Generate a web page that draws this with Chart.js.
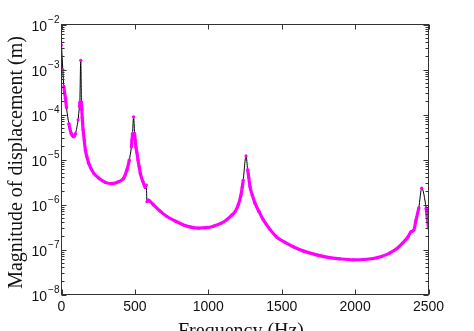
<!DOCTYPE html>
<html>
<head>
<meta charset="utf-8">
<script src="https://cdn.jsdelivr.net/npm/chart.js@4.4.0/dist/chart.umd.min.js"></script>
<style>
  html, body { margin: 0; padding: 0; background: #fff; }
  canvas { display: block; }
</style>
</head>
<body>
<canvas id="frf" width="474" height="331"></canvas>
<script>
// frequency response: displacement magnitude vs. frequency
const freqHz = [
  0, 9, 16, 27, 34, 50, 66, 84, 95, 113, 122, 125, 131,
  136, 138, 141, 144, 147, 155, 163, 173, 185, 220, 253, 299, 344, 389, 423, 446, 462, 476, 480, 484, 491,
  498, 502, 507, 514, 521, 529, 537, 555, 571, 578, 582, 590, 600,
  627, 670, 718, 775, 831, 880, 933, 985, 1035, 1085, 1126, 1160, 1182, 1205, 1222, 1231, 1238, 1257,
  1268, 1276, 1284, 1300, 1318, 1345, 1374, 1420, 1465, 1520, 1578, 1650, 1737, 1815, 1895, 1986,
  2060, 2122, 2180, 2235, 2285, 2325, 2360, 2382, 2400, 2415, 2425, 2434, 2454, 2484, 2492, 2500
];
const dispMag = [
  3.5e-3, 9.8e-4, 4.2e-4, 2.3e-4, 1.4e-4, 6.3e-5, 3.8e-5, 3.2e-5, 3.8e-5, 7.6e-5, 1.5e-4, 1.9e-4, 1.6e-3,
  1.9e-4, 1.3e-4, 8.5e-5, 6.3e-5, 4.6e-5, 2.7e-5, 1.6e-5, 1.15e-5, 8.3e-6, 4.9e-6, 3.9e-6, 3.1e-6, 2.9e-6, 3.2e-6, 3.8e-6, 5.9e-6, 9.8e-6, 1.9e-5, 2.7e-5, 3.8e-5, 8.9e-5,
  3.8e-5, 2.7e-5, 1.9e-5, 1.4e-5, 9.8e-6, 7.0e-6, 4.9e-6, 3.2e-6, 2.4e-6, 2.7e-6, 1.15e-6, 1.25e-6, 1.2e-6,
  9.8e-7, 7.2e-7, 5.4e-7, 4.3e-7, 3.5e-7, 3.15e-7, 3.0e-7, 3.05e-7, 3.3e-7, 3.8e-7, 4.6e-7, 5.8e-7, 6.9e-7, 1.0e-6, 1.6e-6, 2.4e-6, 3.5e-6, 1.2e-5,
  6.0e-6, 3.9e-6, 2.5e-6, 1.6e-6, 1.07e-6, 7.0e-7, 4.6e-7, 2.8e-7, 1.9e-7, 1.45e-7, 1.15e-7, 9.2e-8, 7.6e-8, 6.7e-8, 6.2e-8, 5.9e-8,
  6.0e-8, 6.3e-8, 7.0e-8, 8.3e-8, 1.05e-7, 1.4e-7, 1.9e-7, 2.5e-7, 2.7e-7, 4.5e-7, 6.2e-7, 8.5e-7, 2.3e-6, 8.3e-7, 5.0e-7, 3.0e-7
];
const xTicks = [0, 500, 1000, 1500, 2000, 2500];
const yExponents = [-8, -7, -6, -5, -4, -3, -2];

const points = freqHz.map((f, i) => ({ x: f, y: dispMag[i] }));

const MAGENTA = "#f0f";
const AXIS = "#333";

// steep jumps between samples show as the thin black connecting line
function isSteep(c) {
  const dy = Math.abs(c.p1.y - c.p0.y);
  const dx = Math.abs(c.p1.x - c.p0.x);
  return dy > 12 && dy > 2.5 * dx;
}

// MATLAB-style box with inward ticks and 10^n labels
const axesBox = {
  id: "axesBox",
  afterDraw(chart) {
    const { ctx, chartArea: a, scales } = chart;
    const xs = scales.x;
    const ys = scales.y;
    ctx.save();
    ctx.strokeStyle = AXIS;
    ctx.lineWidth = 1;
    ctx.strokeRect(a.left, a.top, a.right - a.left, a.bottom - a.top);

    ctx.beginPath();
    xTicks.forEach((v) => {
      const px = Math.round(xs.getPixelForValue(v)) + 0.5;
      ctx.moveTo(px, a.bottom);
      ctx.lineTo(px, a.bottom - 5);
      ctx.moveTo(px, a.top);
      ctx.lineTo(px, a.top + 5);
    });
    yExponents.forEach((e) => {
      for (let m = 1; m <= 9; m++) {
        if (e === -2 && m > 1) break;
        const py = Math.round(ys.getPixelForValue(m * Math.pow(10, e))) + 0.5;
        const len = m === 1 ? 5 : 3;
        ctx.moveTo(a.left, py);
        ctx.lineTo(a.left + len, py);
        ctx.moveTo(a.right, py);
        ctx.lineTo(a.right - len, py);
      }
    });
    ctx.stroke();

    ctx.fillStyle = "#111";
    ctx.textBaseline = "alphabetic";

    // x tick labels
    ctx.font = '14px "Liberation Sans", Arial, sans-serif';
    ctx.textAlign = "center";
    xTicks.forEach((v) => {
      ctx.fillText(String(v), xs.getPixelForValue(v), a.bottom + 16.5);
    });

    // y tick labels: "10" with a raised exponent
    yExponents.forEach((e) => {
      const py = ys.getPixelForValue(Math.pow(10, e));
      const expText = "\u2212" + Math.abs(e);
      ctx.font = '10px "Liberation Sans", Arial, sans-serif';
      const ew = ctx.measureText(expText).width;
      ctx.font = '14px "Liberation Sans", Arial, sans-serif';
      const bw = ctx.measureText("10").width;
      const right = a.left - 2;
      ctx.textAlign = "left";
      ctx.fillText("10", right - ew - bw - 1, py + 6);
      ctx.font = '10px "Liberation Sans", Arial, sans-serif';
      ctx.fillText(expText, right - ew, py - 1.5);
    });

    // axis titles
    ctx.font = '20px "Liberation Serif", "Times New Roman", serif';
    ctx.textAlign = "center";
    ctx.fillText("Frequency (Hz)", 241, a.bottom + 42);
    ctx.translate(22, 162.5);
    ctx.rotate(-Math.PI / 2);
    ctx.fillText("Magnitude of displacement (m)", 0, 0);
    ctx.restore();
  }
};

new Chart(document.getElementById("frf"), {
  type: "line",
  data: {
    datasets: [
      {
        label: "Displacement",
        data: points,
        borderColor: MAGENTA,
        borderWidth: 3.2,
        cubicInterpolationMode: "monotone",
        pointRadius: 1.6,
        pointBorderWidth: 0,
        pointBackgroundColor: MAGENTA,
        segment: {
          borderColor: (c) => (isSteep(c) ? "#000" : MAGENTA),
          borderWidth: (c) => (isSteep(c) ? 1 : 3.2)
        }
      }
    ]
  },
  options: {
    responsive: false,
    animation: false,
    layout: { padding: { left: 61.5, right: 45.5, top: 24.5, bottom: 36.5 } },
    plugins: { legend: { display: false }, tooltip: { enabled: false } },
    scales: {
      x: { type: "linear", min: 0, max: 2500, display: false },
      y: { type: "logarithmic", min: 1e-8, max: 1e-2, display: false }
    }
  },
  plugins: [axesBox]
});
</script>
</body>
</html>
